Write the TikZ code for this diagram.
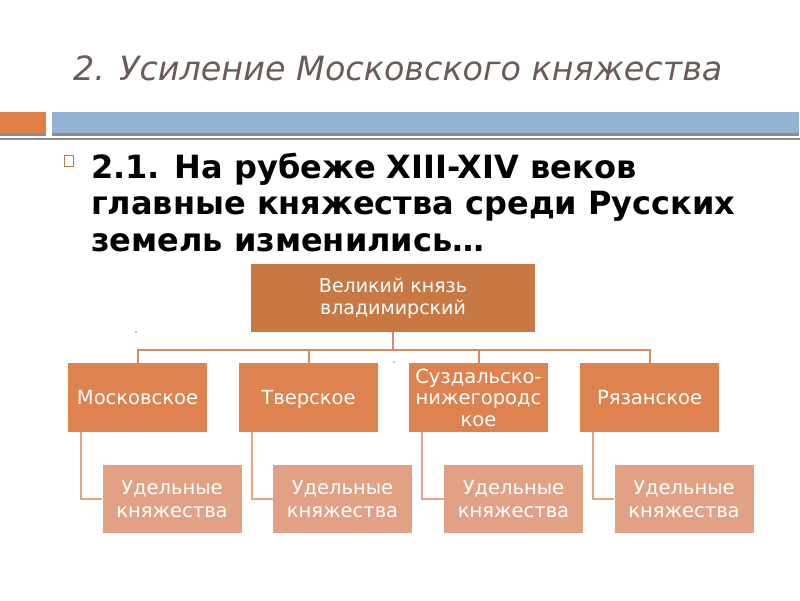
\documentclass[tikz,border=0pt]{standalone}
\usepackage{fontspec}
\setmainfont{DejaVu Sans}
\begin{document}
\begin{tikzpicture}[x=1pt,y=-1pt,
  topbox/.style={fill=topc,draw=none,minimum width=284pt,minimum height=68pt,text=white,align=center,inner sep=0pt,font=\fontsize{19}{22}\selectfont},
  midbox/.style={fill=midc,draw=none,minimum width=139pt,minimum height=69pt,text=white,align=center,inner sep=0pt,font=\fontsize{19.5}{21.5}\selectfont},
  oneline/.style={text height=14.5pt,text depth=0pt},
  lowbox/.style={fill=lowc,draw=none,minimum width=139pt,minimum height=68pt,text=white,align=center,inner sep=0pt,font=\fontsize{19.5}{22.5}\selectfont},
  busline/.style={draw=busc,line width=2pt},
  subline/.style={draw=subc,line width=2pt},
]
\definecolor{topc}{RGB}{200,121,67}
\definecolor{midc}{RGB}{222,130,80}
\definecolor{lowc}{RGB}{226,161,132}
\definecolor{busc}{RGB}{215,138,95}
\definecolor{subc}{RGB}{230,165,135}
\definecolor{titlec}{RGB}{107,92,88}
\definecolor{orangebar}{RGB}{225,128,70}
\definecolor{bluebar}{RGB}{146,180,210}
\definecolor{graybar}{RGB}{140,140,140}
\definecolor{bulletc}{RGB}{196,120,80}

\useasboundingbox (0,0) rectangle (800,600);
\fill[white] (0,0) rectangle (800,600);

% header bars
\fill[orangebar] (0,112) rectangle (46,133);
\fill[bluebar] (52,112) rectangle (799,133);
\fill[graybar] (0,133) rectangle (46,135.5);
\fill[graybar] (52,133) rectangle (799,135.5);
\fill[graybar] (0,137.5) rectangle (800,140);

% title
\node[anchor=base west,inner sep=0pt,text=titlec,font=\fontsize{33.4}{38}\selectfont\itshape] (title) at (73,80) {2. Усиление Московского княжества};

% bullet
\draw[bulletc,line width=0.8pt] (64.5,155.5) rectangle (73,166);

% body text
\node[anchor=base west,inner sep=0pt,font=\fontsize{32}{36.5}\selectfont\bfseries,align=left] (body) at (91,251)
  {2.1. На рубеже XIII-XIV веков\\главные княжества среди Русских\\земель изменились…};

% boxes
\node[topbox] (top) at (393,298) {Великий князь\\владимирский};
\node[midbox,oneline] (m) at (137.5,397.5) {Московское};
\node[midbox,oneline] (t) at (308.5,397.5) {Тверское};
\node[midbox] (s) at (478.5,397.5) {Суздальско-\\нижегородс\\кое};
\node[midbox,oneline] (r) at (649.5,397.5) {Рязанское};

\node[lowbox] (u1) at (172,499) {Удельные\\княжества};
\node[lowbox] (u2) at (342.5,499) {Удельные\\княжества};
\node[lowbox] (u3) at (513.5,499) {Удельные\\княжества};
\node[lowbox] (u4) at (684,499) {Удельные\\княжества};

% connectors
\coordinate (bus) at (393,350);
\draw[busline] (top.south) -- (bus);
\draw[busline] (m.north) -- (m.north |- bus) -- (r.north |- bus) -- (r.north);
\draw[busline] (t.north) -- (t.north |- bus);
\draw[busline] (s.north) -- (s.north |- bus);

\draw[subline] ([xshift=13pt]m.south west) |- (u1.west);
\draw[subline] ([xshift=13pt]t.south west) |- (u2.west);
\draw[subline] ([xshift=13pt]s.south west) |- (u3.west);
\draw[subline] ([xshift=13pt]r.south west) |- (u4.west);

% tiny specks
\fill[gray] (136,332) circle (0.8);
\fill[gray] (394,362) circle (0.8);
\end{tikzpicture}
\end{document}
